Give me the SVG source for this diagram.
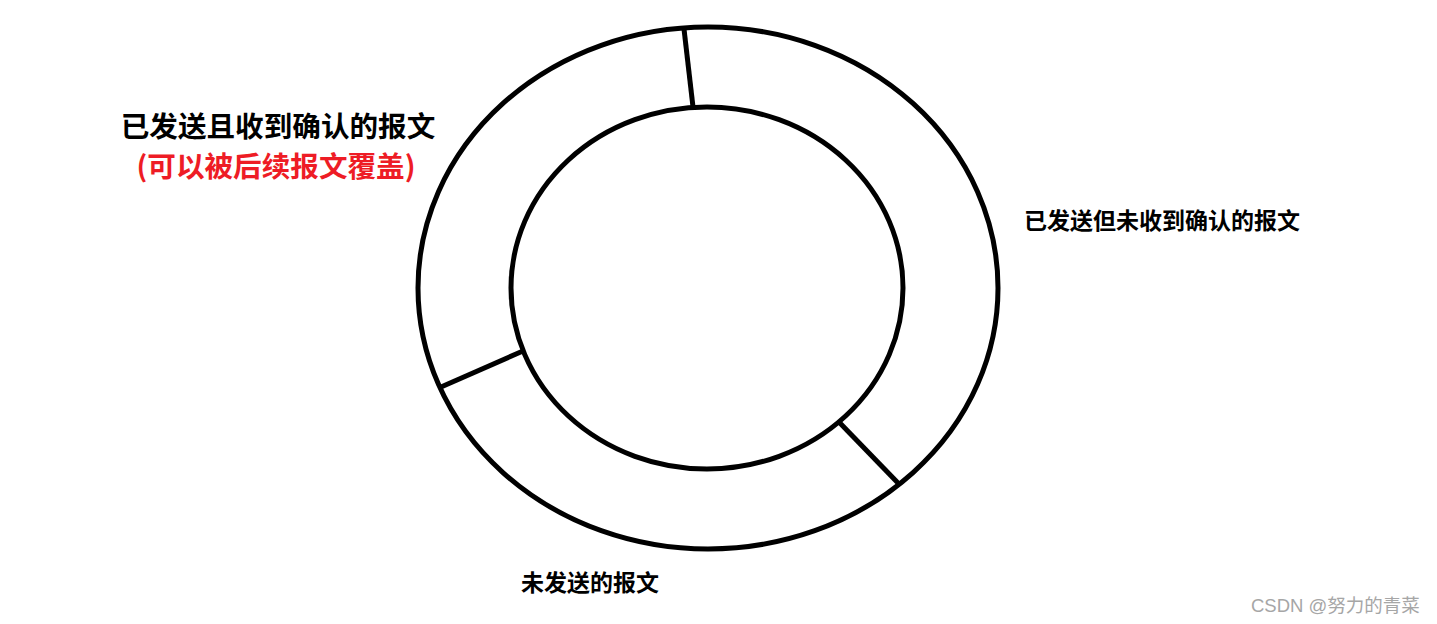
<svg xmlns="http://www.w3.org/2000/svg" width="1437" height="624" viewBox="0 0 1437 624">
<style>
.ring{fill:none;stroke:#000;stroke-width:5}
.div{stroke:#000;stroke-width:5;stroke-linecap:butt}
.lbl{font-family:"Noto Sans CJK SC","Noto Sans",sans-serif;font-weight:bold;fill:#000;text-anchor:middle}
.red{fill:#ee1c25}
.wm{font-family:"Liberation Sans","Noto Sans CJK SC",sans-serif;fill:#a6a6a6;font-size:18.5px}
</style>
<rect width="1437" height="624" fill="#fff"/>
<g id="outer-ring"><ellipse class="ring" cx="708" cy="288" rx="290" ry="261"/></g>
<g id="inner-ring"><ellipse class="ring" cx="707" cy="288" rx="196" ry="181"/></g>
<g id="connectors">
<line class="div" x1="684" y1="29" x2="693" y2="107"/>
<line class="div" x1="441" y1="387" x2="523" y2="351"/>
<line class="div" x1="838" y1="421" x2="898" y2="483"/>
</g>
<g id="acked">
<text class="lbl" x="278" y="137" font-size="28.6">已发送且收到确认的报文</text>
<text class="lbl red" x="276" y="177" font-size="28.6">(可以被后续报文覆盖)</text>
</g>
<g id="unacked"><text class="lbl" x="1162" y="229" font-size="23">已发送但未收到确认的报文</text></g>
<g id="unsent"><text class="lbl" x="590" y="591" font-size="23">未发送的报文</text></g>
<text class="wm" x="1251" y="612">CSDN @努力的青菜</text>
</svg>
